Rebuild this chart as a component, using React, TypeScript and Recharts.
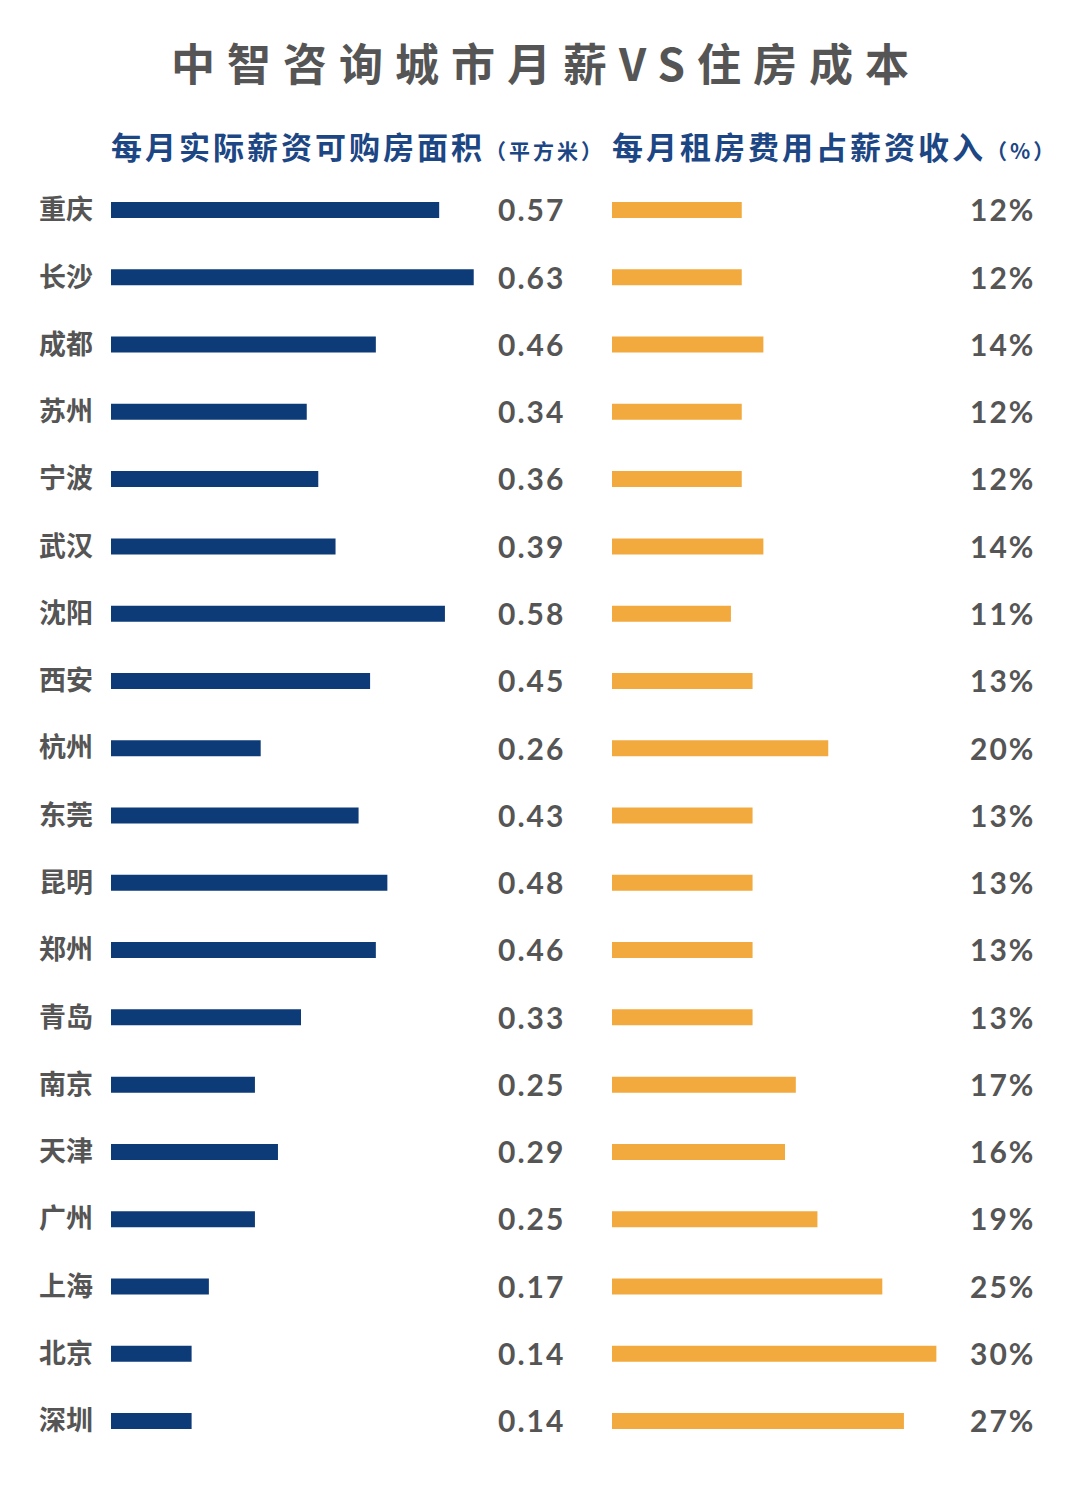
import React from 'react';
import { BarChart, Bar, XAxis, YAxis } from 'recharts';

const cities = ['重庆','长沙','成都','苏州','宁波','武汉','沈阳','西安','杭州','东莞','昆明','郑州','青岛','南京','天津','广州','上海','北京','深圳'];
const areaPerMonth = [0.57,0.63,0.46,0.34,0.36,0.39,0.58,0.45,0.26,0.43,0.48,0.46,0.33,0.25,0.29,0.25,0.17,0.14,0.14];
const rentShare = [12,12,14,12,12,14,11,13,20,13,13,13,13,17,16,19,25,30,27];

const title = '中智咨询城市月薪VS住房成本';
const leftHeading = '每月实际薪资可购房面积';
const leftUnit = '（平方米）';
const rightHeading = '每月租房费用占薪资收入';
const rightUnit = '（%）';

const data = cities.map((c, i) => ({
  city: c,
  area: areaPerMonth[i],
  areaLabel: areaPerMonth[i].toFixed(2),
  rent: rentShare[i],
  rentLabel: `${rentShare[i]}%`,
}));

const NAVY = '#0d3b78';
const ORANGE = '#f2aa3e';
const GRAY = '#555555';
const BLUE_TEXT = '#1c4684';
const CJK = '"Noto Sans CJK SC", "Noto Sans", sans-serif';
const NUM = 'Lato, "Open Sans", "Noto Sans", sans-serif';

const ROW = 67.28;
const CHART_H = ROW * 19;
const CHART_TOP = 210 - ROW / 2;

const numTick = { fill: GRAY, fontSize: 30, fontWeight: 700, fontFamily: NUM, letterSpacing: 2, dy: 1 };

export default function App() {
  return (
    <div style={{ position: 'absolute', left: 0, top: 0, width: 1080, height: 1489, background: '#fff', overflow: 'hidden' }}>
      <div style={{ position: 'absolute', left: 0, top: 34, width: 1080, textAlign: 'center', fontFamily: CJK, fontWeight: 700, fontSize: 44, letterSpacing: 12, color: GRAY, lineHeight: '56px', paddingLeft: 6 }}>
        {title}
      </div>
      <div style={{ position: 'absolute', left: 111, top: 126, fontFamily: CJK, fontWeight: 700, fontSize: 31, letterSpacing: 3, color: BLUE_TEXT, lineHeight: '40px', whiteSpace: 'nowrap' }}>
        {leftHeading}<span style={{ fontSize: 21, letterSpacing: 3 }}>{leftUnit}</span>
      </div>
      <div style={{ position: 'absolute', left: 612, top: 126, fontFamily: CJK, fontWeight: 700, fontSize: 31, letterSpacing: 3, color: BLUE_TEXT, lineHeight: '40px', whiteSpace: 'nowrap' }}>
        {rightHeading}<span style={{ fontSize: 21, letterSpacing: 3 }}>{rightUnit}</span>
      </div>

      <div style={{ position: 'absolute', left: 0, top: CHART_TOP }}>
        <BarChart width={600} height={CHART_H} data={data} layout="vertical" margin={{ top: 0, right: 0, bottom: 0, left: 0 }} barCategoryGap={0}>
          <XAxis type="number" domain={[0, 0.66]} hide />
          <YAxis yAxisId="city" type="category" dataKey="city" width={111} axisLine={false} tickLine={false} tickSize={0} tickMargin={18} interval={0}
            tick={{ fill: GRAY, fontSize: 27, fontWeight: 700, fontFamily: CJK }} />
          <YAxis yAxisId="val" orientation="right" type="category" dataKey="areaLabel" width={109} axisLine={false} tickLine={false} tickSize={0} tickMargin={7} interval={0}
            tick={numTick} />
          <Bar yAxisId="city" dataKey="area" fill={NAVY} barSize={16} isAnimationActive={false} />
        </BarChart>
      </div>

      <div style={{ position: 'absolute', left: 612, top: CHART_TOP }}>
        <BarChart width={468} height={CHART_H} data={data} layout="vertical" margin={{ top: 0, right: 0, bottom: 0, left: 0 }} barCategoryGap={0}>
          <XAxis type="number" domain={[0, 32]} hide />
          <YAxis yAxisId="rent" orientation="right" type="category" dataKey="rentLabel" width={122} axisLine={false} tickLine={false} tickSize={0} tickMargin={12} interval={0}
            tick={numTick} />
          <Bar yAxisId="rent" dataKey="rent" fill={ORANGE} barSize={16} isAnimationActive={false} />
        </BarChart>
      </div>
    </div>
  );
}
